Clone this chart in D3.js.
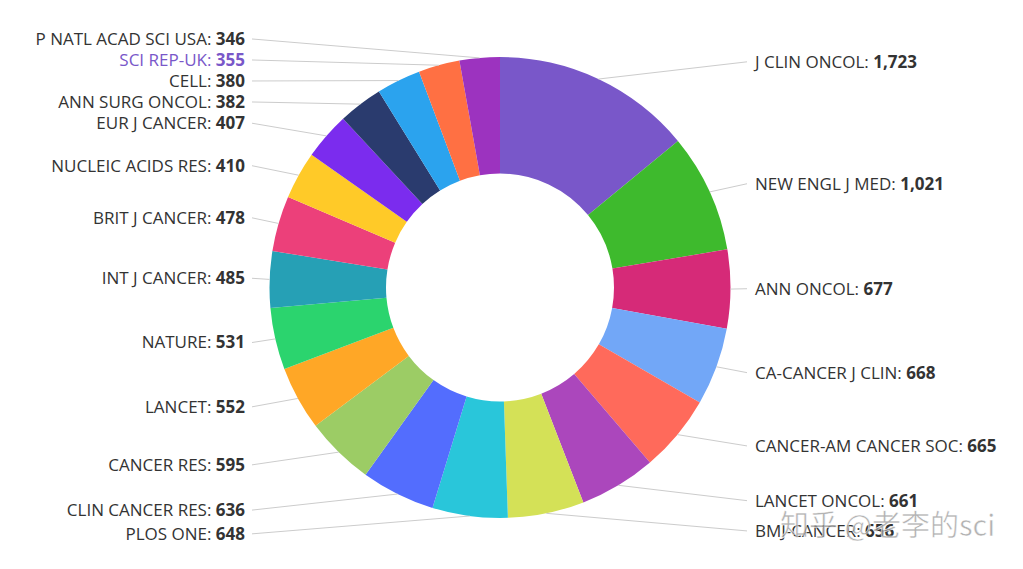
<!DOCTYPE html>
<html><head><meta charset="utf-8">
<style>html,body{margin:0;padding:0;background:#fff}svg{display:block}</style>
<script src="https://cdn.jsdelivr.net/npm/d3@7"></script></head>
<body><svg id="c" width="1023" height="569"></svg>
<script>
const names=["J CLIN ONCOL","NEW ENGL J MED","ANN ONCOL","CA-CANCER J CLIN","CANCER-AM CANCER SOC","LANCET ONCOL","BMJ-CANCER","PLOS ONE","CLIN CANCER RES","CANCER RES","LANCET","NATURE","INT J CANCER","BRIT J CANCER","NUCLEIC ACIDS RES","EUR J CANCER","ANN SURG ONCOL","CELL","SCI REP-UK","P NATL ACAD SCI USA"];
const values=[1723,1021,677,668,665,661,656,648,636,595,552,531,485,478,410,407,382,380,355,346];
const colors=["#7957c9","#3eba2d","#d62a78","#72a7f7","#ff6a5b","#ab47bc","#d4e157","#29c6da","#536dfe","#9ccc65","#ffa726","#2bd46e","#26a0b5","#ec407a","#ffca28","#7b2cee","#2a3b6e","#2ba3ee","#ff7043","#9c33bf"];
const highlighted="SCI REP-UK";
const font='"Open Sans","Noto Sans",sans-serif';
const cx=500,cy=287.5,R=230.5,r0=114,labelR=249,gap=21;
const svg=d3.select("#c");
const fmt=d3.format(",");
const pie=d3.pie().sort(null).value((d,i)=>values[i]);
const arcs=pie(names);
const arc=d3.arc().innerRadius(r0).outerRadius(R);
const g=svg.append("g").attr("transform",`translate(${cx},${cy})`);
g.selectAll("path.s").data(arcs).join("path").attr("class","s").attr("d",arc).attr("fill",(d,i)=>colors[i]);
const items=arcs.map((d,i)=>{const a=(d.startAngle+d.endAngle)/2;return{i,a,name:names[i],v:values[i],
 sx:R*Math.sin(a),sy:-R*Math.cos(a),y:cy-0.5-labelR*Math.cos(a),right:a<Math.PI};});
[true,false].forEach(side=>{const s=items.filter(d=>d.right===side).sort((p,q)=>p.y-q.y);
 for(let k=1;k<s.length;k++) if(s[k].y<s[k-1].y+gap) s[k].y=s[k-1].y+gap;});
svg.append("g").selectAll("path").data(items).join("path").attr("fill","none").attr("stroke","#ccc").attr("stroke-width",1)
 .attr("d",d=>`M${cx+d.sx},${cy+d.sy}L${d.right?747:252},${d.y}`);
const t=svg.append("g").attr("font-family",font).attr("font-size",17).selectAll("text").data(items).join("text")
 .attr("x",d=>d.right?755:245).attr("y",d=>d.y).attr("dy","0.35em").attr("text-anchor",d=>d.right?"start":"end")
 .attr("fill",d=>d.name===highlighted?"#7957c9":"#333");
t.append("tspan").text(d=>d.name+": ");
t.append("tspan").attr("font-weight",700).text(d=>fmt(d.v));
svg.append("text").attr("x",780).attr("y",536).attr("font-family",'"Noto Sans CJK SC",sans-serif').attr("font-size",29)
 .attr("fill","#999").attr("fill-opacity",0.75).attr("stroke","#fff").attr("stroke-width",0.5).text("知乎 @老李的sci");
</script></body></html>
